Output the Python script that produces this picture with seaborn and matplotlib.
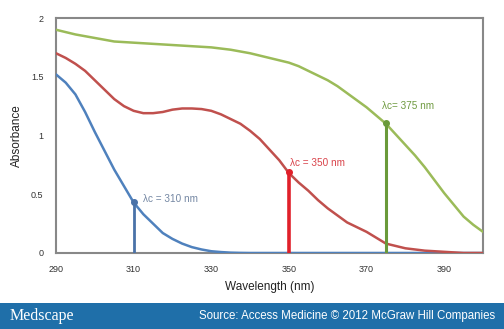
import numpy as np
import pandas as pd
import matplotlib
matplotlib.use("Agg")
import matplotlib.pyplot as plt
import seaborn as sns
from matplotlib.patches import Rectangle

wavelength = [290, 292.5, 295, 297.5, 300, 302.5, 305, 307.5, 310, 312.5, 315, 317.5,
              320, 322.5, 325, 327.5, 330, 332.5, 335, 337.5, 340, 342.5, 345, 347.5,
              350, 352.5, 355, 357.5, 360, 362.5, 365, 367.5, 370, 372.5, 375, 377.5,
              380, 382.5, 385, 387.5, 390, 392.5, 395, 397.5, 400]
green_abs = [1.90, 1.88, 1.86, 1.845, 1.83, 1.815, 1.80, 1.795, 1.79, 1.785, 1.78, 1.775,
             1.77, 1.765, 1.76, 1.755, 1.75, 1.74, 1.73, 1.715, 1.70, 1.68, 1.66, 1.64,
             1.62, 1.59, 1.55, 1.51, 1.47, 1.42, 1.36, 1.30, 1.24, 1.17, 1.10, 1.01,
             0.92, 0.83, 0.73, 0.62, 0.51, 0.41, 0.31, 0.24, 0.18]
red_abs = [1.70, 1.66, 1.61, 1.55, 1.47, 1.39, 1.31, 1.25, 1.21, 1.19, 1.19, 1.20,
           1.22, 1.23, 1.23, 1.225, 1.21, 1.18, 1.14, 1.10, 1.04, 0.97, 0.88, 0.79,
           0.68, 0.60, 0.53, 0.45, 0.38, 0.32, 0.26, 0.22, 0.18, 0.13, 0.08, 0.06,
           0.04, 0.03, 0.02, 0.015, 0.01, 0.005, 0.0, 0.0, 0.0]
blue_abs = [1.52, 1.45, 1.35, 1.20, 1.03, 0.87, 0.71, 0.57, 0.43, 0.33, 0.25, 0.17,
            0.12, 0.08, 0.05, 0.03, 0.015, 0.008, 0.003, 0.001, 0.0, 0.0, 0.0, 0.0,
            0.0, 0.0, 0.0, 0.0, 0.0, 0.0, 0.0, 0.0, 0.0, 0.0, 0.0, 0.0,
            0.0, 0.0, 0.0, 0.0, 0.0, 0.0, 0.0, 0.0, 0.0]

cutoffs = [310, 350, 375]
cutoff_abs = [0.43, 0.69, 1.11]
cutoff_labels = ["λc = 310 nm", "λc = 350 nm", "λc= 375 nm"]
label_pos = [(312.3, 0.46), (350.2, 0.77), (374.0, 1.25)]

xticks = [290, 300, 310, 320, 330, 340, 350, 360, 370, 380, 390, 400]
xticklabels = ["290", "", "310", "", "330", "", "350", "", "370", "", "390", ""]
yticks = [0, 0.5, 1, 1.5, 2]
yticklabels = ["0", "0.5", "1", "1.5", "2"]

sns.set_style("white")
plt.rcParams['font.family'] = ['Liberation Sans', 'DejaVu Sans']

fig = plt.figure(figsize=(5.04, 3.29), dpi=100)
ax = fig.add_axes([56/504, 76/329, 427/504, 235/329])

df = pd.DataFrame({"wl": wavelength, "g": green_abs, "r": red_abs, "b": blue_abs})
line_cols = {"g": "#9bbb59", "r": "#c0504d", "b": "#4f81bd"}
for k in ["b", "r", "g"]:
    sns.lineplot(data=df, x="wl", y=k, ax=ax, color=line_cols[k], lw=1.8, zorder=3)

vcols = ["#4a72a8", "#e0202a", "#6a9a3a"]
vlw = [2.0, 2.6, 2.2]
tcols = ["#7487a3", "#d9434a", "#6f9a40"]
for c, a, col, lw, lab, (tx, ty), tc in zip(cutoffs, cutoff_abs, vcols, vlw,
                                             cutoff_labels, label_pos, tcols):
    ax.plot([c, c], [0, a], color=col, lw=lw, zorder=4)
    ax.plot([c], [a], marker="o", ms=4, color=col, zorder=5)
    ax.text(tx, ty, lab, color=tc, fontsize=7.2, va="center", ha="left")

ax.set_xlim(290, 400)
ax.set_ylim(0, 2)
ax.set_xticks(xticks)
ax.set_xticklabels(xticklabels)
ax.set_yticks(yticks)
ax.set_yticklabels(yticklabels)
ax.tick_params(axis="both", labelsize=6.5, colors="#808080", length=3, width=1,
               direction="out", labelcolor="#333333", pad=6)
for s in ax.spines.values():
    s.set_color("#888888")
    s.set_linewidth(1.5)
ax.set_xlabel("Wavelength (nm)", fontsize=8.5, color="#222222", labelpad=5)
ax.set_ylabel("Absorbance", fontsize=8.5, color="#222222", labelpad=6)

fig.patches.append(Rectangle((0, 0), 1, 26/329, transform=fig.transFigure,
                             facecolor="#1f6fa9", edgecolor="none", zorder=0))
fig.text(10/504, 13/329, "Medscape", color="white", fontsize=11.5,
         family=["Liberation Serif", "DejaVu Serif"], va="center", ha="left")
fig.text(495/504, 13/329, "Source: Access Medicine © 2012 McGraw Hill Companies",
         color="white", fontsize=8.3, va="center", ha="right")

fig.savefig("out.png", dpi=100)
